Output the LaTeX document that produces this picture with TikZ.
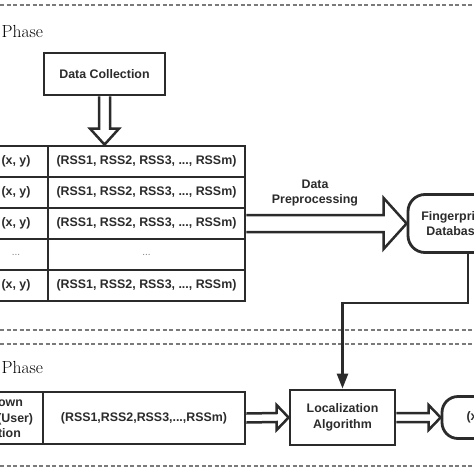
\documentclass[tikz,border=0pt]{standalone}
\usepackage{fontspec}
\newfontfamily\lsans{Liberation Sans}
\usetikzlibrary{arrows.meta,calc,backgrounds}
\definecolor{ink}{HTML}{2B2B2B}
\definecolor{dashc}{HTML}{7A7A7A}
\begin{document}
\begin{tikzpicture}[x=1pt,y=-1pt,
  lbl/.style={font=\lsans\bfseries\fontsize{12.4}{15.5}\selectfont, text=ink, align=center},
  box/.style={draw=ink, line width=2.8pt, lbl, inner sep=0pt},
  cell/.style={box, minimum height=31pt},
  dots/.style={font=\lsans\fontsize{10}{11}\selectfont, text=gray},
  hollow/.style={draw=ink, line width=2.5pt, fill=white, line join=miter},
  conn/.style={draw=ink, line width=2.5pt, -{Triangle[length=15pt,width=11pt]}},
  sep/.style={draw=dashc, line width=1.4pt, dash pattern=on 4pt off 2.5pt},
  phase/.style={font=\fontsize{17.5}{19}\selectfont, text=black, anchor=base west, inner sep=0pt}]
\useasboundingbox (0,0) rectangle (474,474);
\clip (0,0) rectangle (474,474);

% separators
\draw[sep] (0,5) -- (474,5);
\draw[sep] (0,330) -- (474,330);
\draw[sep] (0,344) -- (474,344);
\draw[sep] (0,466) -- (474,466);

% phase labels
\node[phase] (ph1) at (1.5,37.5) {Phase};
\node[phase] (ph2) at (1.5,373.5) {Phase};

% offline phase
\node[box, minimum width=121pt, minimum height=42pt] (dc) at (104.5,74) {Data Collection};

\node[cell, minimum width=64pt] (l1) at (16,161.5) {(x, y)};
\node[cell, minimum width=197pt] (r1) at (146.5,161.5) {(RSS1, RSS2, RSS3, ..., RSSm)};
\node[cell, minimum width=64pt] (l2) at (16,192.5) {(x, y)};
\node[cell, minimum width=197pt] (r2) at (146.5,192.5) {(RSS1, RSS2, RSS3, ..., RSSm)};
\node[cell, minimum width=64pt] (l3) at (16,223.5) {(x, y)};
\node[cell, minimum width=197pt] (r3) at (146.5,223.5) {(RSS1, RSS2, RSS3, ..., RSSm)};
\node[cell, dots, minimum width=64pt] (l4) at (16,254.5) {...};
\node[cell, dots, minimum width=197pt] (r4) at (146.5,254.5) {...};
\node[cell, minimum width=64pt] (l5) at (16,285.5) {(x, y)};
\node[cell, minimum width=197pt] (r5) at (146.5,285.5) {(RSS1, RSS2, RSS3, ..., RSSm)};

\node[box, rounded corners=17pt, minimum width=92pt, minimum height=58pt] (fp) at (454,223.5) {Fingerprint\\Database};
\node[lbl] (dp) at (315,193) {Data\\Preprocessing};

% online phase
\node[box, minimum width=96pt, minimum height=52pt] (ul) at (-5,418) {Unknown\\Target (User)\\Location};
\node[box, minimum width=202pt, minimum height=52pt] (ur) at (144,418) {(RSS1,RSS2,RSS3,...,RSSm)};
\node[box, minimum width=105pt, minimum height=55pt] (la) at (342.5,417.5) {Localization\\Algorithm};
\node[box, rounded corners=16pt, minimum width=78pt, minimum height=42pt] (out) at (481,417.5) {(x, y)};

\coordinate (bend) at (468,303);
\draw[conn] (fp.south -| bend) -- (bend) -| (la.north);

\begin{scope}[on background layer]
\fill[white] (0,0) rectangle (474,474);
% data collection -> table
\draw[hollow] ($(dc.south)+(-5.5,0)$) -- ($(dc.south |- r1.north)+(-5.5,-16)$)
  -- ($(dc.south |- r1.north)+(-14.5,-16)$) -- (dc.south |- r1.north)
  -- ($(dc.south |- r1.north)+(14.5,-16)$) -- ($(dc.south |- r1.north)+(5.5,-16)$)
  -- ($(dc.south)+(5.5,0)$);
% table -> fingerprint database
\draw[hollow] ($(r3.east)+(0,-8.5)$) -- ($(fp.west)+(-23,-8.5)$) -- ($(fp.west)+(-23,-25.5)$)
  -- (fp.west) -- ($(fp.west)+(-23,25.5)$) -- ($(fp.west)+(-23,8.5)$) -- ($(r3.east)+(0,8.5)$);
% online rss -> localization
\draw[hollow] ($(ur.east)+(0,-4.5)$) -- ($(la.west)+(-12,-4.5)$) -- ($(la.west)+(-12,-12.5)$)
  -- (la.west) -- ($(la.west)+(-12,12.5)$) -- ($(la.west)+(-12,4.5)$) -- ($(ur.east)+(0,4.5)$);
% localization -> output
\draw[hollow] ($(la.east)+(0,-4.5)$) -- ($(out.west)+(-12,-4.5)$) -- ($(out.west)+(-12,-12.5)$)
  -- (out.west) -- ($(out.west)+(-12,12.5)$) -- ($(out.west)+(-12,4.5)$) -- ($(la.east)+(0,4.5)$);
\end{scope}
\end{tikzpicture}
\end{document}
